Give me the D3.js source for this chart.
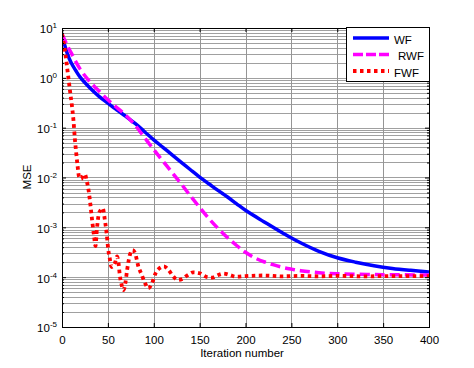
<!DOCTYPE html>
<html>
<head>
<meta charset="utf-8">
<script src="https://cdn.jsdelivr.net/npm/d3@7"></script>
<style>
  html, body { margin: 0; padding: 0; background: #fff; }
  svg { display: block; font-family: "Liberation Sans", Arial, sans-serif; }
</style>
</head>
<body>
<div id="chart"></div>
<script>
// ---- data ----
const xTicks = [0, 50, 100, 150, 200, 250, 300, 350, 400];
const yExponents = [-5, -4, -3, -2, -1, 0, 1];
const seriesNames = ["WF", "RWF", "FWF"];

const wfIter = [0, 3, 6, 10, 15, 20, 30, 40, 50, 60, 70, 80, 90, 100, 110, 120, 130, 140, 150, 160, 170, 180, 190, 200, 220, 240, 260, 280, 300, 320, 340, 360, 380, 400];
const wfMSE  = [7.0, 4.5, 3.0, 2.0, 1.4, 1.02, 0.64, 0.43, 0.31, 0.225, 0.166, 0.12, 0.083, 0.0569, 0.0403, 0.0285, 0.0202, 0.0143, 0.0102, 0.0075, 0.0055, 0.0041, 0.003, 0.0022, 0.0013, 0.00078, 0.00049, 0.00033, 0.000245, 0.0002, 0.00017, 0.00015, 0.000137, 0.000127];

const rwfIter = [0, 5, 10, 20, 30, 40, 50, 60, 70, 80, 90, 100, 110, 120, 130, 140, 150, 160, 170, 180, 190, 200, 210, 220, 230, 240, 250, 260, 280, 300, 350, 400];
const rwfMSE  = [7.59, 4.79, 3.16, 1.48, 0.851, 0.55, 0.363, 0.251, 0.174, 0.11, 0.0631, 0.0363, 0.0214, 0.0126, 0.00741, 0.00427, 0.00251, 0.00151, 0.000955, 0.000631, 0.000437, 0.000316, 0.000245, 0.000204, 0.000178, 0.000158, 0.000145, 0.000135, 0.000123, 0.000117, 0.000112, 0.000111];

const fwfIter = [0, 1.5, 3.5, 5.5, 7, 9, 11, 12.5, 14, 15.5, 17, 18.5, 21, 23, 25, 27, 29, 31, 33, 35, 36.5, 38, 40, 42, 44.5, 46.5, 48.5, 50.5, 52, 54, 56, 58, 60, 61.5, 63, 65, 67, 69, 71, 74, 77, 80, 83, 87, 90.5, 94, 98, 102, 106, 111, 116, 121, 126, 131, 137, 143, 150, 157, 164, 170, 176, 183, 190, 200, 220, 240, 260, 280, 300, 330, 360, 400];
const fwfMSE  = [7.5, 5.5, 3.2, 1.65, 1.0, 0.5, 0.26, 0.14, 0.06, 0.031, 0.017, 0.0105, 0.0093, 0.011, 0.0115, 0.0085, 0.0055, 0.0028, 0.0013, 0.00065, 0.00042, 0.0009, 0.0018, 0.0022, 0.0024, 0.0015, 0.0008, 0.00035, 0.00024, 0.00016, 0.00017, 0.0002, 0.00026, 0.0002, 0.00011, 0.00007, 0.000055, 0.000075, 0.00014, 0.00028, 0.00035, 0.00029, 0.00017, 0.00011, 0.000076, 0.00006, 0.000075, 0.00012, 0.00015, 0.000165, 0.00014, 0.000105, 0.000088, 0.000092, 0.00011, 0.000125, 0.00012, 0.000102, 0.000098, 0.00011, 0.000118, 0.00011, 0.000102, 0.000105, 0.000108, 0.000104, 0.000106, 0.000104, 0.000106, 0.000104, 0.000105, 0.000105];

// ---- layout ----
const W = 474, H = 368;
const L = 62, R = 429, T = 28, B = 327;

const svg = d3.select("#chart").append("svg").attr("width", W).attr("height", H);

const x = d3.scaleLinear().domain([0, 400]).range([L, R]);
const y = d3.scaleLog().domain([1e-5, 10]).range([B, T]);

const majorY = yExponents.map(e => Math.pow(10, e));
const minorY = [];
yExponents.slice(0, -1).forEach(e => { for (let m = 2; m <= 9; m++) minorY.push(m * Math.pow(10, e)); });

// grid
const grid = svg.append("g");
grid.selectAll("line.hy").data(majorY.concat(minorY)).join("line")
  .attr("x1", L).attr("x2", R)
  .attr("y1", d => Math.round(y(d)) + 0.5).attr("y2", d => Math.round(y(d)) + 0.5)
  .attr("stroke", "#a0a0a0").attr("stroke-width", 1);
grid.selectAll("line.vx").data(xTicks).join("line")
  .attr("y1", T).attr("y2", B)
  .attr("x1", d => Math.round(x(d)) + 0.5).attr("x2", d => Math.round(x(d)) + 0.5)
  .attr("stroke", "#959595").attr("stroke-width", 1);

// lines
const smooth = d3.line().curve(d3.curveCatmullRom.alpha(0.5)).x(d => x(d[0])).y(d => y(d[1]));
const line = d3.line().curve(d3.curveMonotoneX).x(d => x(d[0])).y(d => y(d[1]));
svg.append("clipPath").attr("id", "clip").append("rect")
  .attr("x", L).attr("y", T - 2).attr("width", R - L).attr("height", B - T + 2);
const plot = svg.append("g").attr("clip-path", "url(#clip)");

plot.append("path").datum(wfIter.map((v, i) => [v, wfMSE[i]]))
  .attr("d", smooth).attr("fill", "none").attr("stroke", "#0000ff").attr("stroke-width", 3.5);
plot.append("path").datum(rwfIter.map((v, i) => [v, rwfMSE[i]]))
  .attr("d", smooth).attr("fill", "none").attr("stroke", "#ff00ff").attr("stroke-width", 3.5)
  .attr("stroke-dasharray", "10,5");
plot.append("path").datum(fwfIter.map((v, i) => [v, fwfMSE[i]]))
  .attr("d", line).attr("fill", "none").attr("stroke", "#ff0000").attr("stroke-width", 3.8)
  .attr("stroke-dasharray", "3.5,3.5");

// axes (inward ticks)
const fmtTick = g => g.select(".domain").remove();
const gx = svg.append("g").attr("transform", `translate(0,${B})`)
  .call(d3.axisBottom(x).tickValues(xTicks).tickSizeInner(-4).tickSizeOuter(0).tickPadding(9).tickFormat(d3.format("d")))
  .call(fmtTick);
gx.selectAll("text").attr("font-size", 11.5).attr("fill", "#000").attr("font-family", "Liberation Sans, Arial, sans-serif");
svg.append("g").attr("transform", `translate(0,${T})`)
  .call(d3.axisTop(x).tickValues(xTicks).tickSizeInner(-4).tickSizeOuter(0).tickFormat(""))
  .call(fmtTick);

const gy = svg.append("g").attr("transform", `translate(${L},0)`)
  .call(d3.axisLeft(y).tickValues(majorY).tickSizeInner(-4).tickSizeOuter(0).tickPadding(5).tickFormat(() => ""))
  .call(fmtTick);
gy.selectAll(".tick text").each(function(d) {
  const t = d3.select(this).attr("font-size", 11.5).attr("fill", "#000")
    .attr("font-family", "Liberation Sans, Arial, sans-serif").attr("dy", "0.42em");
  t.append("tspan").text("10");
  t.append("tspan").attr("dy", -5).attr("font-size", 8).text(Math.round(Math.log10(d)));
});
svg.append("g").attr("transform", `translate(${L},0)`)
  .call(d3.axisLeft(y).tickValues(minorY).tickSizeInner(-2).tickSizeOuter(0).tickFormat(""))
  .call(fmtTick);
svg.append("g").attr("transform", `translate(${R},0)`)
  .call(d3.axisRight(y).tickValues(majorY).tickSizeInner(-4).tickSizeOuter(0).tickFormat(""))
  .call(fmtTick);
svg.append("g").attr("transform", `translate(${R},0)`)
  .call(d3.axisRight(y).tickValues(minorY).tickSizeInner(-2).tickSizeOuter(0).tickFormat(""))
  .call(fmtTick);

// box
svg.append("rect").attr("x", L + 0.5).attr("y", T + 0.5).attr("width", R - L).attr("height", B - T)
  .attr("fill", "none").attr("stroke", "#000").attr("stroke-width", 1);

// labels
svg.append("text").attr("x", 242).attr("y", 357).attr("text-anchor", "middle")
  .attr("font-size", 11.5).text("Iteration number");
svg.append("text").attr("transform", "translate(31,177) rotate(-90)").attr("text-anchor", "middle")
  .attr("font-size", 11.5).text("MSE");

// legend
const lg = svg.append("g");
lg.append("rect").attr("x", 346.5).attr("y", 27.5).attr("width", 83).attr("height", 54)
  .attr("fill", "#fff").attr("stroke", "#000").attr("stroke-width", 1);
const legendStyles = [
  { c: "#0000ff", dash: null, w: 3.5, ty: 38, tx: 394 },
  { c: "#ff00ff", dash: "10,3", w: 3.5, ty: 54.5, tx: 398 },
  { c: "#ff0000", dash: "3.5,3.5", w: 3.8, ty: 71, tx: 394 }
];
seriesNames.forEach((name, i) => {
  const s = legendStyles[i];
  lg.append("line").attr("x1", 353).attr("x2", 389).attr("y1", s.ty).attr("y2", s.ty)
    .attr("stroke", s.c).attr("stroke-width", s.w).attr("stroke-dasharray", s.dash);
  lg.append("text").attr("x", s.tx).attr("y", s.ty + 5.5).attr("font-size", 11.5).text(name);
});
</script>
</body>
</html>
